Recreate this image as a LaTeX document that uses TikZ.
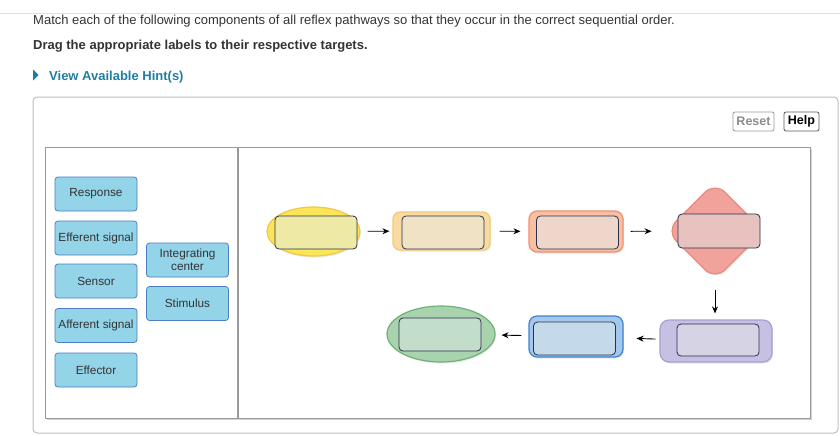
\documentclass[tikz,border=0pt]{standalone}
\usepackage{fontspec}
\setmainfont{Liberation Sans}
\usetikzlibrary{arrows.meta,shapes.geometric,shadows}
\definecolor{txt}{HTML}{333333}
\definecolor{hint}{HTML}{1F7EA1}
\definecolor{navy}{HTML}{2A2F4A}
\definecolor{lblFill}{HTML}{93D4E8}
\definecolor{lblBorder}{HTML}{4A7FC1}
\definecolor{stimFill}{HTML}{FBE65A}\definecolor{stimLine}{HTML}{F2C744}\definecolor{stimIn}{HTML}{EEEAA6}
\definecolor{sensFill}{HTML}{F8DBA0}\definecolor{sensLine}{HTML}{F3C978}\definecolor{sensIn}{HTML}{EFE2C5}
\definecolor{affFill}{HTML}{F8BFA3}\definecolor{affLine}{HTML}{EE9170}\definecolor{affIn}{HTML}{EED6CA}
\definecolor{integFill}{HTML}{F1A39B}\definecolor{integLine}{HTML}{E98A80}\definecolor{integIn}{HTML}{E8C2BF}
\definecolor{effFill}{HTML}{C6C0E3}\definecolor{effLine}{HTML}{A99ED2}\definecolor{effIn}{HTML}{D6D3E4}
\definecolor{effrFill}{HTML}{A3C8EC}\definecolor{effrLine}{HTML}{3F82D2}\definecolor{effrIn}{HTML}{C4DAEA}
\definecolor{respFill}{HTML}{A8D3AE}\definecolor{respLine}{HTML}{6FB275}\definecolor{respIn}{HTML}{C3DDCB}

\begin{document}
\begin{tikzpicture}[>={Stealth[length=7pt,width=6pt]}, x=1pt, y=-1pt,
    lbl/.style={draw=lblBorder, fill=lblFill, line width=0.8pt, rounded corners=3pt, minimum width=82pt,
      minimum height=34pt, inner sep=1pt, align=center, text=txt,
      font=\fontsize{11.8}{12.5}\selectfont},
    target/.style={draw=navy, rounded corners=4pt, minimum width=82pt, minimum height=33pt,
      inner sep=0pt, line width=0.8pt},
    stepshape/.style={line width=1.2pt, inner sep=0pt,
      drop shadow={opacity=0.18, shadow xshift=1pt, shadow yshift=-1.5pt}},
    button/.style={draw, rounded corners=2pt, line width=0.8pt, minimum height=19pt,
      inner sep=2pt, font=\fontsize{12.5}{12}\selectfont\bfseries},
    link/.style={->, line width=0.9pt}]
  \useasboundingbox (0,0) rectangle (840,436);
  \draw[gray!25] (0,13) -- (840,13);
  \node[anchor=base west, inner sep=0pt, text=txt, font=\fontsize{13}{14}\selectfont] (intro) at (33,24.5)
    {Match each of the following components of all reflex pathways so that they occur in the correct sequential order.};
  \node[anchor=base west, inner sep=0pt, text=txt, font=\fontsize{13}{14}\selectfont\bfseries] (drag) at (33,50)
    {Drag the appropriate labels to their respective targets.};
  \fill[hint] (33,69.5) -- (38.5,75) -- (33,80.5) -- cycle;
  \node[anchor=base west, inner sep=0pt, text=hint, font=\fontsize{13}{14}\selectfont\bfseries] (hints) at (49,80.5)
    {View Available Hint(s)};

  % frame and panels
  \draw[gray!50, line width=1pt, rounded corners=4pt] (33,97) rectangle (838,433);
  \draw[gray!80, fill=white, line width=1pt, drop shadow={opacity=0.35, shadow xshift=2pt, shadow yshift=-2pt}]
    (45,147) rectangle (810,418);
  \draw[gray!80, line width=1.5pt] (238,147) -- (238,418);
  \node[button, draw=gray!80, text=gray!90, minimum width=41pt] (reset) at (753.5,121.5) {Reset};
  \node[button, draw=gray!130, text=black, minimum width=35pt] (help) at (801.5,121.5) {Help};

  % labels
  \foreach \name/\x/\y/\txt in {response/96/194/Response, efferent/96/238/Efferent signal,
      sensor/96/281/Sensor, afferent/96/325.5/Afferent signal, effector/96/370/Effector,
      integrating/187.5/260/{Integrating\\center}, stimulus/187.5/303.5/Stimulus}{
    \node[lbl] (\name Lbl) at (\x,\y) {\txt};
  }

  % pathway
  \node[stepshape, ellipse, draw=stimLine, fill=stimFill, minimum width=93pt, minimum height=49pt] (stim) at (313.5,231.5) {};
  \node[stepshape, rectangle, rounded corners=7pt, draw=sensLine, fill=sensFill, minimum width=97pt, minimum height=38pt] (sens) at (441.5,231) {};
  \node[stepshape, rectangle, rounded corners=8pt, draw=affLine, fill=affFill, minimum width=94pt, minimum height=41pt] (aff) at (576,231.5) {};
  \node[stepshape, diamond, aspect=1, rounded corners=14pt, draw=integLine, fill=integFill, minimum size=98pt] (integ) at (715,231) {};
  \node[stepshape, rectangle, rounded corners=9pt, draw=effLine, fill=effFill, minimum width=112pt, minimum height=42pt] (eff) at (716,341) {};
  \node[stepshape, rectangle, rounded corners=8pt, draw=effrLine, fill=effrFill, minimum width=94pt, minimum height=41pt] (effr) at (576,336.5) {};
  \node[stepshape, ellipse, draw=respLine, fill=respFill, minimum width=108pt, minimum height=56pt] (resp) at (441,334) {};

  \node[target, fill=stimIn] (stimBox) at (316,232.5) {};
  \node[target, fill=sensIn] (sensBox) at (443,232.5) {};
  \node[target, fill=affIn] (affBox) at (577.5,232.5) {};
  \node[target, fill=integIn, minimum height=34pt] (integBox) at (719,231) {};
  \node[target, fill=effIn, minimum height=32pt] (effBox) at (718,340) {};
  \node[target, fill=effrIn] (effrBox) at (574.5,338.5) {};
  \node[target, fill=respIn] (respBox) at (440,334.5) {};

  \draw[link, shorten <=7pt, shorten >=3pt] (stim) -- (sens);
  \draw[link, shorten <=9pt, shorten >=8pt] (sens) -- (aff);
  \draw[link, shorten <=7pt, shorten >=14pt] (aff) -- (integ);
  \draw[link, shorten <=9pt, shorten >=6pt] (integ) -- (integ |- eff.north);
  \draw[link, shorten <=4pt, shorten >=13pt] (eff) -- (effr);
  \draw[link, shorten <=7pt, shorten >=6pt] (effr) -- (resp);
\end{tikzpicture}
\end{document}
